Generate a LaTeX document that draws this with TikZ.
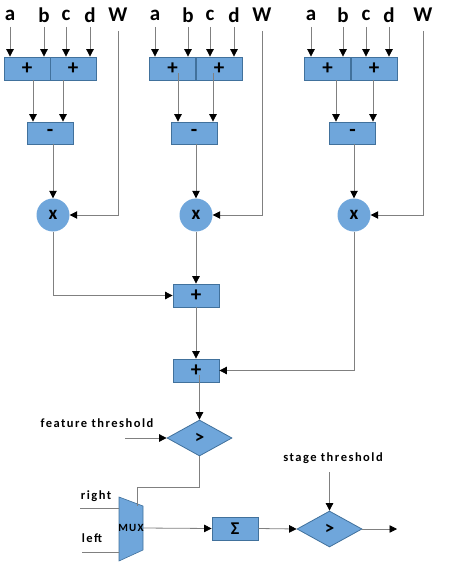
\documentclass[tikz,border=0pt]{standalone}
\usepackage{fontspec}
\setmainfont{Carlito}
\newfontfamily\lsfont[LetterSpace=12]{Carlito}
\usetikzlibrary{arrows.meta,shapes.geometric}
\definecolor{boxfill}{HTML}{6FA6DB}
\definecolor{boxline}{HTML}{41719C}
\definecolor{wire}{HTML}{808080}
\tikzset{
  opbox/.style={draw=boxline,fill=boxfill,line width=0.8pt,minimum width=46pt,minimum height=23pt,inner sep=0pt,font=\fontsize{21}{21}\selectfont\bfseries},
  mulnode/.style={circle,fill=boxfill,minimum size=33pt,inner sep=0pt,font=\fontsize{19}{19}\selectfont\bfseries},
  cmpnode/.style={diamond,draw=boxline,fill=boxfill,line width=0.8pt,minimum width=65pt,minimum height=36pt,inner sep=0pt,aspect=1.8,font=\fontsize{19}{19}\selectfont\bfseries},
  inlabel/.style={inner sep=0pt,font=\fontsize{21}{21}\selectfont\bfseries},
  txtlabel/.style={inner sep=0pt,font=\fontsize{12.5}{12.5}\selectfont\bfseries\lsfont},
  arr/.style={draw=wire,line width=0.8pt,-{Triangle[length=7.5pt,width=7.5pt,black]}},
  wireline/.style={draw=wire,line width=0.8pt},
}
\begin{document}
\begin{tikzpicture}[x=1pt,y=-1pt]
\useasboundingbox (0,0) rectangle (474,567);
% column 1
\node[inlabel] (a1) at (10,15) {a};
\node[inlabel] (b1) at (44,15) {b};
\node[inlabel] (cc1) at (66,15) {c};
\node[inlabel] (d1) at (90,15) {d};
\node[inlabel] (w1) at (118,15) {W};
\node[opbox] (p1l) at (27,68.5) {+};
\node[opbox] (p1r) at (73,68.5) {+};
\node[opbox,minimum height=22pt] (m1) at (50,133) {-};
\node[mulnode] (c1) at (53,215) {x};
% column 2
\node[inlabel] (a2) at (155,15) {a};
\node[inlabel] (b2) at (188,15) {b};
\node[inlabel] (cc2) at (210,15) {c};
\node[inlabel] (d2) at (234,15) {d};
\node[inlabel] (w2) at (262,15) {W};
\node[opbox] (p2l) at (172.5,68.5) {+};
\node[opbox] (p2r) at (219,68.5) {+};
\node[opbox,minimum height=22pt] (m2) at (194,133) {-};
\node[mulnode] (c2) at (196,215) {x};
% column 3
\node[inlabel] (a3) at (311,15) {a};
\node[inlabel] (b3) at (343,15) {b};
\node[inlabel] (cc3) at (366,15) {c};
\node[inlabel] (d3) at (389,15) {d};
\node[inlabel] (w3) at (423,15) {W};
\node[opbox] (p3l) at (327.5,68.5) {+};
\node[opbox] (p3r) at (374,68.5) {+};
\node[opbox,minimum height=22pt] (m3) at (352.5,133) {-};
\node[mulnode] (c3) at (354,215) {x};
% lower chain
\node[opbox] (s1) at (196,295.5) {+};
\node[opbox] (s2) at (196,370.5) {+};
\node[cmpnode] (g1) at (199.5,438) {>};
\node[txtlabel] (ft) at (97,423) {feature threshold};
\coordinate (ftin) at (125,438);
% mux
\draw[draw=boxline,fill=boxfill,line width=0.6pt] (119,497) -- (143,506) -- (143,550) -- (119,561) -- cycle;
\node[inner sep=0pt,font=\fontsize{11}{11}\selectfont\bfseries\lsfont] (mux) at (131,528) {MUX};
\coordinate (muxr) at (143,528);
\coordinate (muxsel) at (137,506);
\coordinate (muxa) at (119,508);
\coordinate (muxb) at (119,552);
\coordinate (rin) at (80,508);
\coordinate (lin) at (82,552);
\node[txtlabel] (rl) at (96,496) {right};
\node[txtlabel] (ll) at (92,538) {left};
\node[opbox,font=\fontsize{18}{18}\selectfont\bfseries] (sig) at (235,528.5) {Σ};
\node[cmpnode] (g2) at (329.5,529) {>};
\node[txtlabel] (st) at (333,458) {stage threshold};
\coordinate (stin) at (329.5,472);
\coordinate (out) at (397,529);

% column arrows
\foreach \i in {1,2,3} {
  \draw[arr] (a\i |- 0,27) -- (a\i |- p\i l.north);
  \draw[arr] (b\i |- 0,27) -- (b\i |- p\i l.north);
  \draw[arr] (cc\i |- 0,27) -- (cc\i |- p\i r.north);
  \draw[arr] (d\i |- 0,27) -- (d\i |- p\i r.north);
  \draw[arr] (m\i.south -| c\i) -- (c\i.north);
  \draw[arr] (w\i |- 0,31) -- (w\i |- c\i) -- (c\i.east);
}
\draw[arr] ([xshift=6pt]p1l.south) -- ([xshift=6pt]p1l.south |- m1.north);
\draw[arr] ([xshift=-10pt]p1r.south) -- ([xshift=-10pt]p1r.south |- m1.north);
\draw[arr] ([xshift=5.5pt,yshift=7pt]p2l.south) -- ([xshift=5.5pt]p2l.south |- m2.north);
\draw[arr] ([xshift=-6pt,yshift=7pt]p2r.south) -- ([xshift=-6pt]p2r.south |- m2.north);
\draw[arr] ([xshift=8.5pt]p3l.south) -- ([xshift=8.5pt]p3l.south |- m3.north);
\draw[arr] ([xshift=-1pt]p3r.south) -- ([xshift=-1pt]p3r.south |- m3.north);
% lower chain
\draw[arr] (c2.south) -- (s1.north);
\draw[arr] (c1.south) -- (c1 |- s1) -- (s1.west);
\draw[arr] (s1.south) -- (s2.north);
\draw[arr] (c3.south) -- (c3 |- s2) -- (s2.east);
\draw[arr] ([yshift=7pt]s2.south -| g1) -- (g1.north);
\draw[arr] (ftin) -- (g1.west);
\draw[wireline] (g1.south) -- ++(0,31) -| (muxsel);
\draw[wireline] (rin) -- (muxa);
\draw[wireline] (lin) -- (muxb);
\draw[arr] (muxr) -- (sig.west);
\draw[arr] (sig.east) -- (g2.west);
\draw[arr] (stin) -- (g2.north);
\draw[arr] (g2.east) -- (out);
\end{tikzpicture}
\end{document}
